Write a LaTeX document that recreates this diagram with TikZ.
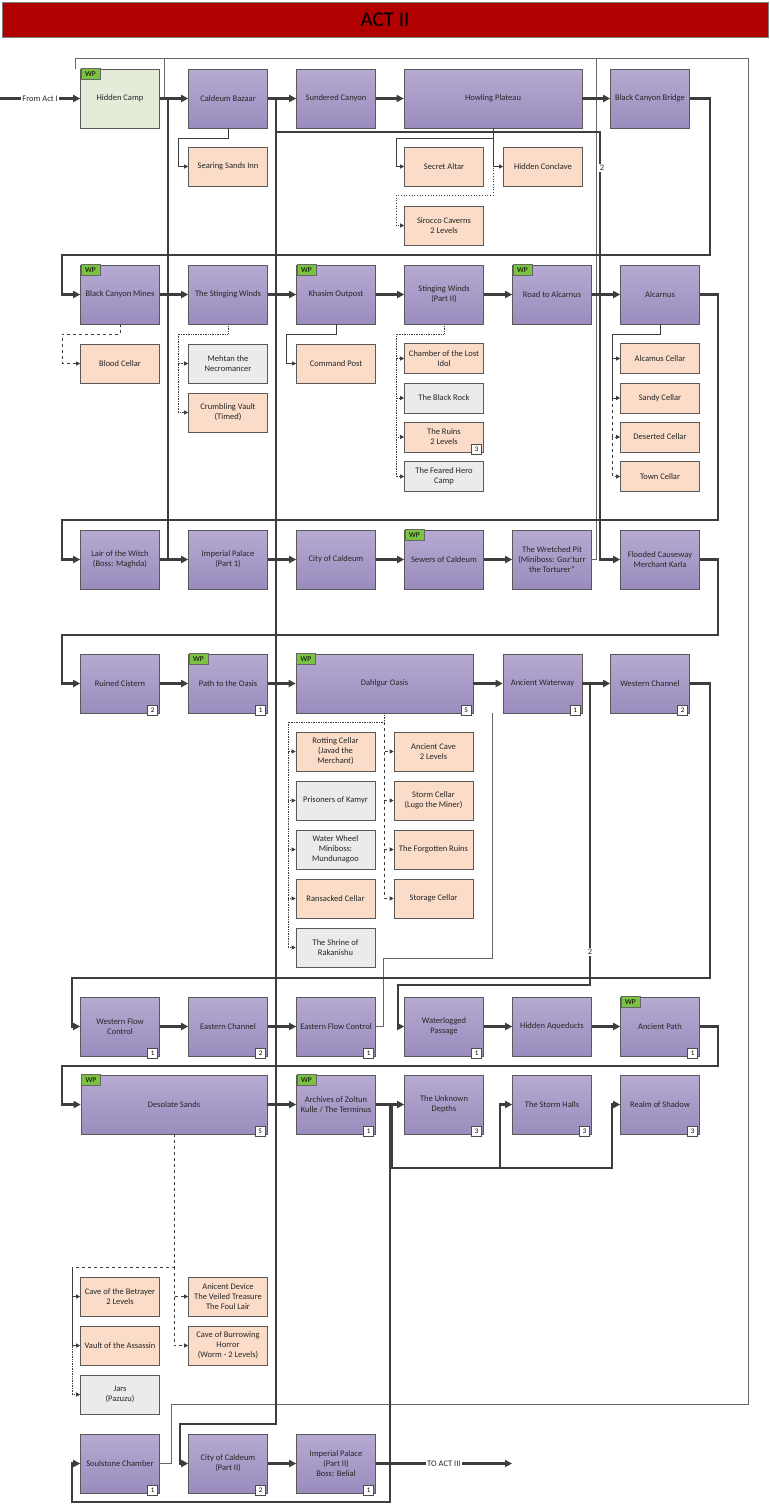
\documentclass[tikz,border=0pt]{standalone}
\usepackage{fontspec}
\setmainfont{Carlito}
\usetikzlibrary{arrows.meta}
\definecolor{hdr}{HTML}{B00000}
\definecolor{ln}{HTML}{3D3D3D}
\definecolor{ptop}{HTML}{B6AAD2}
\definecolor{pbot}{HTML}{9A8CBD}
\definecolor{pch}{HTML}{FADCC8}
\definecolor{gry}{HTML}{EBEBEB}
\definecolor{grn}{HTML}{E4EBD8}
\definecolor{wpg}{HTML}{7CC242}
\tikzset{
 box/.style={draw=black!65, line width=0.6pt, align=center, inner sep=1pt, font=\fontsize{8.5}{10}\selectfont, text=black!85, minimum width=79pt},
 pur/.style={box, top color=ptop, bottom color=pbot, minimum height=59pt},
 peach/.style={box, fill=pch, minimum height=39pt},
 grey/.style={box, fill=gry, minimum height=39pt},
 green/.style={box, fill=grn, minimum height=59pt},
 wp/.style={draw=black!60, fill=wpg, font=\fontsize{7.5}{8}\selectfont, inner sep=1pt, minimum width=19pt, minimum height=11pt, anchor=north west},
 num/.style={draw=black!70, fill=white, font=\fontsize{7}{7}\selectfont, inner sep=0.5pt, minimum size=10pt, anchor=south east},
 main/.style={draw=ln, line width=2.6pt, -{Triangle[length=7pt,width=7pt]}},
 mainl/.style={draw=ln, line width=2.6pt},
 sub/.style={draw=ln, line width=0.7pt, -{Triangle[length=4pt,width=4pt]}},
 subl/.style={draw=ln, line width=0.7pt},
 thin/.style={draw=black!60, line width=0.6pt},
 lbl/.style={fill=white, inner sep=1pt, font=\fontsize{8.5}{10}\selectfont, text=black!85},
}
\newcommand\wpb[1]{\node[wp] at ([shift={(0.5,-0.5)}]#1.north west) {WP};}
\newcommand\nb[2]{\node[num] at ([shift={(-2,2)}]#1.south east) {#2};}
\begin{document}
\begin{tikzpicture}[x=1pt,y=-1pt]
\useasboundingbox (0,0) rectangle (770,1505);
\node[fill=hdr, draw=black!50, minimum width=766pt, minimum height=35pt, inner sep=0, font=\fontsize{21}{22}\selectfont, text=black] (hd) at (385,20) {ACT II};
% thin frame
\draw[thin] (75,69)--(75,58)--(748,58)--(748,1404)--(171,1404)--(171,1463.5)--(159,1463.5);
\draw[thin] (596,559.5)--(591,559.5);
\draw[thin] (596,559.5)--(596,58);
\draw[thin] (164,58)--(164,98.5);
% Row 1
\node[green] (hc) at (120,98.5) {Hidden Camp};
\node[pur] (cb) at (228,98.5) {Caldeum Bazaar};
\node[pur] (sc) at (336,98.5) {Sundered Canyon};
\node[pur, minimum width=178pt] (hp) at (493,98.5) {Howling Plateau};
\node[pur] (bcb) at (650,98.5) {Black Canyon Bridge};
\node[peach] (ssi) at (228,166.5) {Searing Sands Inn};
\node[peach] (sa) at (444,166.5) {Secret Altar};
\node[peach] (hcv) at (543,166.5) {Hidden Conclave};
\node[peach] (sir) at (444,225.5) {Sirocco Caverns\\2 Levels};
% Row 2
\node[pur] (bcm) at (120,294.5) {Black Canyon Mines};
\node[pur] (sw) at (228,294.5) {The Stinging Winds};
\node[pur] (ko) at (336,294.5) {Khasim Outpost};
\node[pur] (sw2) at (444,294.5) {Stinging Winds\\(Part II)};
\node[pur] (rta) at (552,294.5) {Road to Alcarnus};
\node[pur] (alc) at (660,294.5) {Alcarnus};
\node[peach] (blc) at (120,363.5) {Blood Cellar};
\node[grey] (meh) at (228,363.5) {Mehtan the\\Necromancer};
\node[peach] (crv) at (228,412.5) {Crumbling Vault\\(Timed)};
\node[peach] (cp) at (336,363.5) {Command Post};
\node[peach, minimum height=30pt] (chm) at (444,358.5) {Chamber of the Lost\\Idol};
\node[grey, minimum height=30pt] (br) at (444,398) {The Black Rock};
\node[peach, minimum height=30pt] (ru) at (444,437) {The Ruins\\2 Levels};
\node[grey, minimum height=30pt] (fh) at (444,476.5) {The Feared Hero\\Camp};
\node[peach, minimum height=30pt] (ac1) at (660,358.5) {Alcamus Cellar};
\node[peach, minimum height=30pt] (ac2) at (660,398) {Sandy Cellar};
\node[peach, minimum height=30pt] (ac3) at (660,437) {Deserted Cellar};
\node[peach, minimum height=30pt] (ac4) at (660,476.5) {Town Cellar};
% Row 3
\node[pur] (lw) at (120,559.5) {Lair of the Witch\\(Boss: Maghda)};
\node[pur] (ip) at (228,559.5) {Imperial Palace\\(Part 1)};
\node[pur] (coc) at (336,559.5) {City of Caldeum};
\node[pur] (soc) at (444,559.5) {Sewers of Caldeum};
\node[pur] (wp) at (552,559.5) {The Wretched Pit\\(Miniboss: Goz'turr\\the Torturer"};
\node[pur] (fc) at (660,559.5) {Flooded Causeway\\Merchant Karla};
% Row 4
\node[pur] (rc) at (120,683.5) {Ruined Cistern};
\node[pur] (pto) at (228,683.5) {Path to the Oasis};
\node[pur, minimum width=177pt] (dah) at (384.5,683.5) {Dahlgur Oasis};
\node[pur] (aw) at (542.5,683.5) {Ancient Waterway};
\node[pur] (wc) at (650,683.5) {Western Channel};
\node[peach] (o1) at (335.5,751.5) {Rotting Cellar\\(Javad the\\Merchant)};
\node[grey] (o2) at (335.5,800.5) {Prisoners of Kamyr};
\node[grey] (o3) at (335.5,849.5) {Water Wheel\\Miniboss:\\Mundunagoo};
\node[peach] (o4) at (335.5,898.5) {Ransacked Cellar};
\node[grey] (o5) at (335.5,947.5) {The Shrine of\\Rakanishu};
\node[peach] (r1) at (433.5,751.5) {Ancient Cave\\2 Levels};
\node[peach] (r2) at (433.5,800.5) {Storm Cellar\\(Lugo the Miner)};
\node[peach] (r3) at (433.5,849.5) {The Forgotten Ruins};
\node[peach] (r4) at (433.5,898.5) {Storage Cellar};
% Row 5
\node[pur] (wfc) at (120,1026.5) {Western Flow\\Control};
\node[pur] (ec) at (228,1026.5) {Eastern Channel};
\node[pur] (efc) at (336,1026.5) {Eastern Flow Control};
\node[pur] (wl) at (444,1026.5) {Waterlogged\\Passage};
\node[pur] (ha) at (552,1026.5) {Hidden Aqueducts};
\node[pur] (ap) at (660,1026.5) {Ancient Path};
% Row 6
\node[pur, minimum width=186pt] (ds) at (174,1104.5) {Desolate Sands};
\node[pur] (arc) at (336,1104.5) {Archives of Zoltun\\Kulle / The Terminus};
\node[pur] (ud) at (444,1104.5) {The Unknown\\Depths};
\node[pur] (sh) at (552,1104.5) {The Storm Halls};
\node[pur] (rs) at (660,1104.5) {Realm of Shadow};
\node[peach] (d1) at (120,1296.5) {Cave of the Betrayer\\2 Levels};
\node[peach] (d2) at (120,1345.5) {Vault of the Assassin};
\node[grey] (d3) at (120,1394.5) {Jars\\(Pazuzu)};
\node[peach] (d4) at (228,1296.5) {Anicent Device\\The Veiled Treasure\\The Foul Lair};
\node[peach] (d5) at (228,1345.5) {Cave of Burrowing\\Horror\\(Worm - 2 Levels)};
% Row 7
\node[pur] (ss) at (120,1463.5) {Soulstone Chamber};
\node[pur] (cc2) at (228,1463.5) {City of Caldeum\\(Part II)};
\node[pur] (ip2) at (336,1463.5) {Imperial Palace\\(Part II)\\Boss: Belial};
% badges
\wpb{hc}\wpb{bcm}\wpb{ko}\wpb{rta}\wpb{soc}\wpb{pto}\wpb{dah}\wpb{ap}\wpb{ds}\wpb{arc}
\nb{ru}{3}\nb{rc}{2}\nb{pto}{1}\nb{dah}{5}\nb{aw}{1}\nb{wc}{2}
\nb{wfc}{1}\nb{ec}{2}\nb{efc}{1}\nb{wl}{1}\nb{ap}{1}
\nb{ds}{5}\nb{arc}{1}\nb{ud}{3}\nb{sh}{3}\nb{rs}{3}
\nb{ss}{1}\nb{cc2}{2}\nb{ip2}{1}
% thin extra
\draw[thin] (efc.east)--(383,1026.5)--(383,958)--(492,958)--(492,713);
% main connectors
\coordinate (start) at (0,98.5);
\draw[main] (start)--node[lbl]{From Act I}(hc.west);
\draw[mainl] (168,98.5)--(168,559.5);
\draw[mainl] (276,98.5)--(276,132)--(600,132)--(600,520);
\draw[main] (276,98.5)--(276,1424)--(180,1424)--(180,1463.5)--(cc2.west);
\draw[main] (600,520)--(600,559.5)--(fc.west);
\draw[main] (hc)--(cb); \draw[main] (cb)--(sc); \draw[main] (sc)--(hp); \draw[main] (hp)--(bcb);
\draw[main] (bcb.east)--(710,98.5)--(710,255)--(62,255)--(62,294.5)--(bcm.west);
\draw[main] (bcm)--(sw); \draw[main] (sw)--(ko); \draw[main] (ko)--(sw2); \draw[main] (sw2)--(rta); \draw[main] (rta)--(alc);
\draw[main] (alc.east)--(718,294.5)--(718,520)--(62,520)--(62,559.5)--(lw.west);
\draw[main] (lw)--(ip); \draw[main] (ip)--(coc); \draw[main] (coc)--(soc); \draw[main] (soc)--(wp);
\draw[main] (fc.east)--(718,559.5)--(718,635)--(62,635)--(62,683.5)--(rc.west);
\draw[main] (rc)--(pto); \draw[main] (pto)--(dah); \draw[main] (dah)--(aw); \draw[main] (aw)--(wc);
\draw[main] (wc.east)--(710,683.5)--(710,978)--(72,978)--(72,1026.5)--(wfc.west);
\draw[main] (590,683.5)--(590,985)--(398,985)--(398,1026.5)--(wl.west);
\node[lbl] (two1) at (590,952) {2};
\node[lbl] (two2) at (602,168) {2};
\draw[main] (wfc)--(ec); \draw[main] (ec)--(efc); \draw[main] (wl)--(ha); \draw[main] (ha)--(ap);
\draw[main] (ap.east)--(718,1026.5)--(718,1066)--(62,1066)--(62,1104.5)--(ds.west);
\draw[main] (ds)--(arc); \draw[main] (arc)--(ud);
\draw[main] (arc.east)--(392,1104.5)--(392,1168)--(500,1168)--(500,1104.5)--(sh.west);
\draw[main] (500,1168)--(612,1168)--(612,1104.5)--(rs.west);
\draw[main] (390,1104.5)--(390,1502)--(72,1502)--(72,1463.5)--(ss.west);
\draw[main] (cc2)--(ip2);
\coordinate (end) at (512,1463.5);
\draw[main] (ip2.east)--node[lbl]{TO ACT III}(end);
% sub connectors
\draw[sub] (cb.south)--(228,138)--(178,138)--(178,166.5)--(ssi.west);
\draw[subl] (hp.south)--(493,138);
\draw[sub] (493,138)--(396,138)--(396,166.5)--(sa.west);
\draw[sub] (493,138)--(493,166.5)--(hcv.west);
\draw[sub, dotted] (493,138)--(493,195)--(396,195)--(396,225.5)--(sir.west);
\draw[sub, dashed] (bcm.south)--(120,334)--(62,334)--(62,363.5)--(blc.west);
\draw[sub, densely dotted] (sw.south)--(228,334)--(178,334)--(178,363.5)--(meh.west);
\draw[sub, densely dotted] (178,363.5)--(178,412.5)--(crv.west);
\draw[sub] (ko.south)--(336,334)--(286,334)--(286,363.5)--(cp.west);
\draw[sub, densely dotted] (sw2.south)--(444,334)--(396,334)--(396,358.5)--(chm.west);
\draw[sub, densely dotted] (396,358.5)--(396,398)--(br.west);
\draw[sub, densely dotted] (396,398)--(396,437)--(ru.west);
\draw[sub, densely dotted] (396,437)--(396,476.5)--(fh.west);
\draw[sub] (alc.south)--(660,334)--(612,334)--(612,358.5)--(ac1.west);
\draw[sub] (612,358.5)--(612,398)--(ac2.west);
\draw[sub, dashed] (612,398)--(612,437)--(ac3.west);
\draw[sub, dashed] (612,437)--(612,476.5)--(ac4.west);
\draw[subl, densely dotted] (dah.south)--(384.5,722)--(288,722);
\draw[sub, densely dotted] (288,722)--(288,751.5)--(o1.west);
\draw[sub, densely dotted] (288,751.5)--(288,800.5)--(o2.west);
\draw[sub, densely dotted] (288,800.5)--(288,849.5)--(o3.west);
\draw[sub, densely dotted] (288,849.5)--(288,898.5)--(o4.west);
\draw[sub, densely dotted] (288,898.5)--(288,947.5)--(o5.west);
\draw[sub, dashed] (384.5,722)--(384.5,751.5)--(r1.west);
\draw[sub, dashed] (384.5,751.5)--(384.5,800.5)--(r2.west);
\draw[sub, dashed] (384.5,800.5)--(384.5,849.5)--(r3.west);
\draw[sub, dashed] (384.5,849.5)--(384.5,898.5)--(r4.west);
\draw[subl, dashed] (ds.south)--(174,1267)--(72,1267);
\draw[sub] (72,1267)--(72,1296.5)--(d1.west);
\draw[sub] (72,1296.5)--(72,1345.5)--(d2.west);
\draw[sub, densely dotted] (72,1345.5)--(72,1394.5)--(d3.west);
\draw[sub, dashed] (174,1267)--(174,1296.5)--(d4.west);
\draw[sub, dashed] (174,1296.5)--(174,1345.5)--(d5.west);
\end{tikzpicture}
\end{document}
